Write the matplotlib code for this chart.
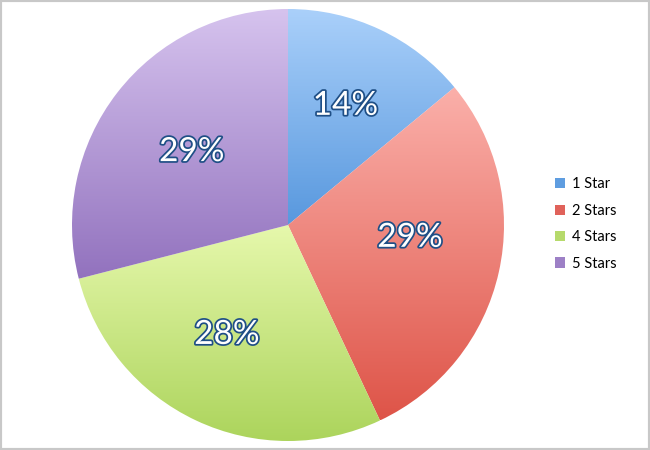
import numpy as np
import matplotlib
matplotlib.use("Agg")
from matplotlib import pyplot as plt
from matplotlib.patches import Patch, Rectangle
from matplotlib.colors import LinearSegmentedColormap
import matplotlib.patheffects as pe

labels = ['1 Star', '2 Stars', '4 Stars', '5 Stars']
shares = [14, 29, 28, 29]
# gradient colours per slice: top (light) -> bottom (dark)
top_cols = ['#aad0fa', '#fbb0aa', '#e6f8ac', '#d6c3ee']
bot_cols = ['#5898de', '#de5448', '#acd45c', '#9272be']
legend_cols = ['#5f9de0', '#e0625a', '#b6da6c', '#9d80c6']
# label placement (fraction of radius, angle nudge in degrees)
lab_dist = [0.625, 0.567, 0.57, 0.567]
lab_nudge = [0, 8, -4.5, -0.5]

plt.rcParams['font.family'] = ['Lato', 'DejaVu Sans']

fig = plt.figure(figsize=(6.5, 4.5), dpi=100)
ax = fig.add_axes([72 / 650, 9 / 450, 432 / 650, 432 / 450])

wedges, texts, autotexts = ax.pie(
    shares, startangle=90, counterclock=False, radius=1,
    autopct='%1.0f%%', pctdistance=0.6,
    wedgeprops=dict(linewidth=0, facecolor='none'))

for w, c0, c1 in zip(wedges, top_cols, bot_cols):
    x0, y0, x1, y1 = w.get_path().get_extents().extents
    cmap = LinearSegmentedColormap.from_list('g', [c1, c0])
    grad = np.linspace(0, 1, 256).reshape(-1, 1)
    im = ax.imshow(grad, cmap=cmap, extent=[x0, x1, y0, y1],
                   origin='lower', aspect='auto', zorder=0.5)
    im.set_clip_path(w)

for w, t, d, n in zip(wedges, autotexts, lab_dist, lab_nudge):
    ang = np.deg2rad((w.theta1 + w.theta2) / 2 + n)
    t.set_position((d * np.cos(ang), d * np.sin(ang)))
    t.set_verticalalignment('center_baseline')
    t.set_color('white')
    t.set_fontsize(24)
    t.set_path_effects([pe.withStroke(linewidth=2.5, foreground='#1f4f86')])
    t.set_zorder(3)

ax.set_xlim(-1, 1)
ax.set_ylim(-1, 1)
ax.set_aspect('equal')
ax.axis('off')

handles = [Patch(facecolor=c, edgecolor='none') for c in legend_cols]
fig.legend(handles, labels, loc='center left',
           bbox_to_anchor=(542 / 650, 1 - 224 / 450),
           frameon=False, fontsize=10.5, handlelength=0.7, handleheight=0.7,
           handletextpad=0.45, labelspacing=0.85)

fig.patches.append(Rectangle((0, 0), 1, 1, transform=fig.transFigure,
                             fill=False, edgecolor='#c8c8c8', linewidth=3))

fig.savefig('out.png', dpi=100)
